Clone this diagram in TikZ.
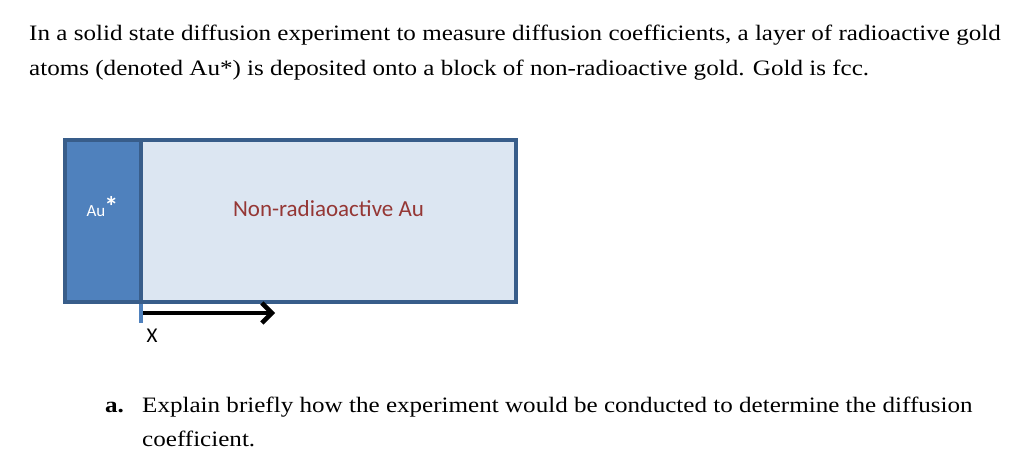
\documentclass[tikz,border=0pt]{standalone}
\usepackage{fontspec}
\setmainfont[FakeStretch=1.14]{Liberation Serif}
\newfontfamily\calibri{Carlito}
\usetikzlibrary{arrows.meta}
\definecolor{auborder}{HTML}{385D8A}
\definecolor{aufill}{HTML}{4F81BD}
\definecolor{bulkfill}{HTML}{DCE6F2}
\definecolor{labelred}{HTML}{953735}
\tikzset{textline/.style={anchor=base west, inner sep=0pt, font=\fontsize{22}{35}\selectfont},
	blockpart/.style={draw=auborder, line width=4pt, inner sep=0pt, outer sep=0pt, minimum height=161.5pt},
	blocklabel/.style={anchor=base, inner sep=0pt, font=\calibri}}

\begin{document}
\begin{tikzpicture}[x=1pt, y=-1pt]
	\useasboundingbox (0,0) rectangle (1024,454);
	% question
	\node[textline] (q1) at (29,41) {In a solid state diffusion experiment to measure diffusion coefficients, a layer of radioactive gold};
	\node[textline] (q2) at (29,76) {atoms (denoted Au*) is deposited onto a block of non-radioactive gold. Gold is fcc.};
	% the block
	\node[blockpart, fill=bulkfill, minimum width=375pt] (bulk) at (328.5,221.25) {};
	\node[blockpart, fill=aufill, minimum width=76pt] (hot) at (103,221.25) {};
	\node[blocklabel, text=white] (hot label) at (102.5,217) {\fontsize{17}{18}\selectfont Au\kern-1pt\bfseries\fontsize{28}{28}\selectfont *};
	\node[blocklabel, text=labelred, font=\calibri\fontsize{23}{27}\selectfont] (bulk label) at (bulk.center |- 0,217) {Non-radiaoactive Au};
	% x axis
	\draw[aufill, line width=4pt] ([yshift=-2pt]hot.south east) -- ++(0,19);
	\coordinate (x start) at (143,313);
	\coordinate (x end) at (275,313);
	\draw[-{Straight Barb[length=10pt,width=20pt]}, line width=4.5pt] (x start) -- (x end);
	\node[blocklabel, font=\calibri\fontsize{21}{24}\selectfont] (x label) at (152,342) {X};
	% part a
	\node[textline, font=\bfseries\fontsize{22}{35}\selectfont] (a) at (105,412) {a.};
	\node[textline] (a1) at (142,412) {Explain briefly how the experiment would be conducted to determine the diffusion};
	\node[textline] (a2) at (142,446) {coefficient.};
\end{tikzpicture}
\end{document}
